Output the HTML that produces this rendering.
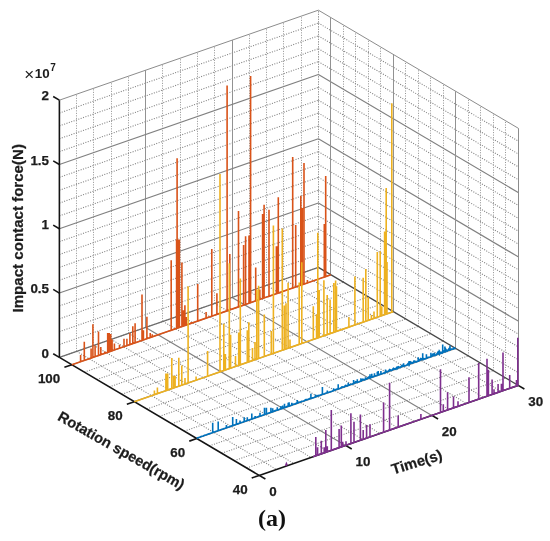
<!DOCTYPE html>
<html><head><meta charset="utf-8"><title>Impact contact force</title>
<style>
html,body{margin:0;padding:0;background:#fff}
svg{display:block}
text{font-family:"Liberation Sans",Arial,sans-serif;fill:#1c1c1c}
.tk{font-size:13.4px;font-weight:bold;stroke:#1c1c1c;stroke-width:0.25px}
.lb{font-size:14.8px;font-weight:bold;stroke:#1c1c1c;stroke-width:0.25px}
.ex{font-size:13.4px;font-weight:bold}
.cap{font-family:"Liberation Serif","Times New Roman",serif;font-size:24px;font-weight:bold;fill:#111}
.mn{stroke:#969696;stroke-width:1;stroke-dasharray:1.05 1.45;fill:none}
.mj{stroke:#929292;stroke-width:1;fill:none}
.dg{stroke:#808080;stroke-width:1.05}
.dg2{stroke:#808080;stroke-width:1.15}
.bx{stroke:#8c8c8c;stroke-width:1;fill:none}
.bk{stroke:#484848;stroke-width:1.25;fill:none}
.bk2{stroke:#6c6c6c;stroke-width:1.1;fill:none}
.ax{stroke:#141414;stroke-width:1.6;fill:none;stroke-linecap:butt}
.d{fill:none;stroke-width:1.6;stroke-linejoin:miter}
</style></head><body>
<svg width="550" height="541" viewBox="0 0 550 541">
<rect width="550" height="541" fill="#fff"/>
<line class="mn" x1="76.5" y1="351.38" x2="76.5" y2="94.18"/>
<line class="mn dg" x1="76.66" y1="351.38" x2="276.47" y2="469.4"/>
<line class="mn" x1="93.5" y1="345.38" x2="93.5" y2="88.18"/>
<line class="mn dg" x1="93.92" y1="345.38" x2="293.73" y2="463.4"/>
<line class="mn" x1="111.5" y1="339.38" x2="111.5" y2="82.18"/>
<line class="mn dg" x1="111.19" y1="339.38" x2="311" y2="457.4"/>
<line class="mn" x1="128.5" y1="333.38" x2="128.5" y2="76.18"/>
<line class="mn dg" x1="128.46" y1="333.38" x2="328.26" y2="451.4"/>
<line class="mn" x1="162.5" y1="321.38" x2="162.5" y2="64.18"/>
<line class="mn dg" x1="162.99" y1="321.38" x2="362.8" y2="439.4"/>
<line class="mn" x1="180.5" y1="315.38" x2="180.5" y2="58.18"/>
<line class="mn dg" x1="180.25" y1="315.38" x2="380.06" y2="433.4"/>
<line class="mn" x1="197.5" y1="309.38" x2="197.5" y2="52.18"/>
<line class="mn dg" x1="197.52" y1="309.38" x2="397.33" y2="427.4"/>
<line class="mn" x1="214.5" y1="303.38" x2="214.5" y2="46.18"/>
<line class="mn dg" x1="214.79" y1="303.38" x2="414.59" y2="421.4"/>
<line class="mn" x1="249.5" y1="291.38" x2="249.5" y2="34.18"/>
<line class="mn dg" x1="249.32" y1="291.38" x2="449.13" y2="409.4"/>
<line class="mn" x1="266.5" y1="285.38" x2="266.5" y2="28.18"/>
<line class="mn dg" x1="266.58" y1="285.38" x2="466.39" y2="403.4"/>
<line class="mn" x1="283.5" y1="279.38" x2="283.5" y2="22.18"/>
<line class="mn dg" x1="283.85" y1="279.38" x2="483.66" y2="397.4"/>
<line class="mn" x1="301.5" y1="273.38" x2="301.5" y2="16.18"/>
<line class="mn dg" x1="301.12" y1="273.38" x2="500.92" y2="391.4"/>
<line class="mn dg" x1="59.39" y1="344.52" x2="318.38" y2="254.52"/>
<line class="mn dg" x1="318.38" y1="254.52" x2="518.19" y2="372.54"/>
<line class="mn dg" x1="59.39" y1="331.66" x2="318.38" y2="241.66"/>
<line class="mn dg" x1="318.38" y1="241.66" x2="518.19" y2="359.68"/>
<line class="mn dg" x1="59.39" y1="318.8" x2="318.38" y2="228.8"/>
<line class="mn dg" x1="318.38" y1="228.8" x2="518.19" y2="346.82"/>
<line class="mn dg" x1="59.39" y1="305.94" x2="318.38" y2="215.94"/>
<line class="mn dg" x1="318.38" y1="215.94" x2="518.19" y2="333.96"/>
<line class="mn dg" x1="59.39" y1="280.22" x2="318.38" y2="190.22"/>
<line class="mn dg" x1="318.38" y1="190.22" x2="518.19" y2="308.24"/>
<line class="mn dg" x1="59.39" y1="267.36" x2="318.38" y2="177.36"/>
<line class="mn dg" x1="318.38" y1="177.36" x2="518.19" y2="295.38"/>
<line class="mn dg" x1="59.39" y1="254.5" x2="318.38" y2="164.5"/>
<line class="mn dg" x1="318.38" y1="164.5" x2="518.19" y2="282.52"/>
<line class="mn dg" x1="59.39" y1="241.64" x2="318.38" y2="151.64"/>
<line class="mn dg" x1="318.38" y1="151.64" x2="518.19" y2="269.66"/>
<line class="mn dg" x1="59.39" y1="215.92" x2="318.38" y2="125.92"/>
<line class="mn dg" x1="318.38" y1="125.92" x2="518.19" y2="243.94"/>
<line class="mn dg" x1="59.39" y1="203.06" x2="318.38" y2="113.06"/>
<line class="mn dg" x1="318.38" y1="113.06" x2="518.19" y2="231.08"/>
<line class="mn dg" x1="59.39" y1="190.2" x2="318.38" y2="100.2"/>
<line class="mn dg" x1="318.38" y1="100.2" x2="518.19" y2="218.22"/>
<line class="mn dg" x1="59.39" y1="177.34" x2="318.38" y2="87.34"/>
<line class="mn dg" x1="318.38" y1="87.34" x2="518.19" y2="205.36"/>
<line class="mn dg" x1="59.39" y1="151.62" x2="318.38" y2="61.62"/>
<line class="mn dg" x1="318.38" y1="61.62" x2="518.19" y2="179.64"/>
<line class="mn dg" x1="59.39" y1="138.76" x2="318.38" y2="48.76"/>
<line class="mn dg" x1="318.38" y1="48.76" x2="518.19" y2="166.78"/>
<line class="mn dg" x1="59.39" y1="125.9" x2="318.38" y2="35.9"/>
<line class="mn dg" x1="318.38" y1="35.9" x2="518.19" y2="153.92"/>
<line class="mn dg" x1="59.39" y1="113.04" x2="318.38" y2="23.04"/>
<line class="mn dg" x1="318.38" y1="23.04" x2="518.19" y2="141.06"/>
<line class="mn" x1="505.5" y1="378.02" x2="505.5" y2="120.82"/>
<line class="mn dg" x1="246.71" y1="468.02" x2="505.7" y2="378.02"/>
<line class="mn" x1="493.5" y1="370.65" x2="493.5" y2="113.45"/>
<line class="mn dg" x1="234.22" y1="460.65" x2="493.21" y2="370.65"/>
<line class="mn" x1="480.5" y1="363.27" x2="480.5" y2="106.07"/>
<line class="mn dg" x1="221.74" y1="453.27" x2="480.73" y2="363.27"/>
<line class="mn" x1="468.5" y1="355.9" x2="468.5" y2="98.7"/>
<line class="mn dg" x1="209.25" y1="445.9" x2="468.24" y2="355.9"/>
<line class="mn" x1="443.5" y1="341.14" x2="443.5" y2="83.94"/>
<line class="mn dg" x1="184.27" y1="431.14" x2="443.26" y2="341.14"/>
<line class="mn" x1="430.5" y1="333.77" x2="430.5" y2="76.57"/>
<line class="mn dg" x1="171.78" y1="423.77" x2="430.77" y2="333.77"/>
<line class="mn" x1="418.5" y1="326.39" x2="418.5" y2="69.19"/>
<line class="mn dg" x1="159.3" y1="416.39" x2="418.29" y2="326.39"/>
<line class="mn" x1="405.5" y1="319.02" x2="405.5" y2="61.82"/>
<line class="mn dg" x1="146.81" y1="409.02" x2="405.8" y2="319.02"/>
<line class="mn" x1="380.5" y1="304.26" x2="380.5" y2="47.06"/>
<line class="mn dg" x1="121.83" y1="394.26" x2="380.82" y2="304.26"/>
<line class="mn" x1="368.5" y1="296.89" x2="368.5" y2="39.69"/>
<line class="mn dg" x1="109.34" y1="386.89" x2="368.33" y2="296.89"/>
<line class="mn" x1="355.5" y1="289.51" x2="355.5" y2="32.31"/>
<line class="mn dg" x1="96.86" y1="379.51" x2="355.85" y2="289.51"/>
<line class="mn" x1="343.5" y1="282.14" x2="343.5" y2="24.94"/>
<line class="mn dg" x1="84.37" y1="372.14" x2="343.36" y2="282.14"/>
<line class="mn" x1="318.5" y1="267.38" x2="318.5" y2="10.18"/>
<line class="mn dg" x1="59.39" y1="357.38" x2="318.38" y2="267.38"/>
<line class="mn" x1="318.5" y1="267.38" x2="318.5" y2="10.18"/>
<line class="mj" x1="145.5" y1="327.38" x2="145.5" y2="70.18"/>
<line class="mj dg2" x1="145.72" y1="327.38" x2="345.53" y2="445.4"/>
<line class="mj" x1="232.5" y1="297.38" x2="232.5" y2="40.18"/>
<line class="mj dg2" x1="232.05" y1="297.38" x2="431.86" y2="415.4"/>
<line class="mj dg2" x1="59.39" y1="293.08" x2="318.38" y2="203.08"/>
<line class="mj dg2" x1="318.38" y1="203.08" x2="518.19" y2="321.1"/>
<line class="mj dg2" x1="59.39" y1="228.78" x2="318.38" y2="138.78"/>
<line class="mj dg2" x1="318.38" y1="138.78" x2="518.19" y2="256.8"/>
<line class="mj dg2" x1="59.39" y1="164.48" x2="318.38" y2="74.48"/>
<line class="mj dg2" x1="318.38" y1="74.48" x2="518.19" y2="192.5"/>
<line class="mj" x1="455.5" y1="348.52" x2="455.5" y2="91.32"/>
<line class="mj dg2" x1="196.76" y1="438.52" x2="455.75" y2="348.52"/>
<line class="mj" x1="393.5" y1="311.64" x2="393.5" y2="54.44"/>
<line class="mj dg2" x1="134.32" y1="401.64" x2="393.31" y2="311.64"/>
<line class="mj" x1="330.5" y1="274.76" x2="330.5" y2="17.56"/>
<line class="mj dg2" x1="71.88" y1="364.76" x2="330.87" y2="274.76"/>
<line class="bx" x1="59.39" y1="100.18" x2="318.38" y2="10.18"/>
<line class="bx" x1="318.38" y1="10.18" x2="518.19" y2="128.2"/>
<line class="bx" x1="518.5" y1="128.2" x2="518.5" y2="385.4"/>
<line class="bk2" x1="59.39" y1="357.38" x2="318.38" y2="267.38"/>
<line class="bk" x1="318.38" y1="267.38" x2="518.19" y2="385.4"/>
<line class="ax" x1="59.39" y1="357.38" x2="59.39" y2="100.18"/>
<line class="ax" x1="59.39" y1="357.38" x2="259.2" y2="475.4"/>
<line class="ax" x1="259.2" y1="475.4" x2="518.19" y2="385.4"/>
<line class="ax" x1="59.39" y1="357.38" x2="53.19" y2="353.72"/>
<line class="ax" x1="59.39" y1="293.08" x2="53.19" y2="289.42"/>
<line class="ax" x1="59.39" y1="228.78" x2="53.19" y2="225.12"/>
<line class="ax" x1="59.39" y1="164.48" x2="53.19" y2="160.82"/>
<line class="ax" x1="59.39" y1="100.18" x2="53.19" y2="96.52"/>
<line class="ax" x1="259.2" y1="475.4" x2="251.72" y2="478"/>
<line class="ax" x1="196.76" y1="438.52" x2="189.28" y2="441.12"/>
<line class="ax" x1="134.32" y1="401.64" x2="126.84" y2="404.24"/>
<line class="ax" x1="71.88" y1="364.76" x2="64.4" y2="367.36"/>
<line class="ax" x1="259.2" y1="475.4" x2="265.4" y2="479.06"/>
<line class="ax" x1="345.53" y1="445.4" x2="351.73" y2="449.06"/>
<line class="ax" x1="431.86" y1="415.4" x2="438.06" y2="419.06"/>
<line class="ax" x1="518.19" y1="385.4" x2="524.39" y2="389.06"/>
<polyline class="d" stroke="#d95319" points="71.88,364.76 80.6,361.73 80.6,355.1 80.6,361.73 84.3,360.44 84.3,341.8 84.3,360.44 91.1,358.08 91.1,348.4 91.1,358.08 92.9,357.46 92.9,324.3 92.9,357.46 95.1,356.69 95.1,345.5 95.1,356.69 98.5,355.51 98.5,331.4 98.5,355.51 100.8,354.71 100.8,346.9 100.8,354.71 104.7,353.35 104.7,351.4 104.7,353.35 107.7,352.31 107.7,332.9 107.7,352.31 109.2,351.79 109.2,332.9 109.2,351.79 110.7,351.27 110.7,334 110.7,351.27 112.1,350.78 112.1,339.5 112.1,350.78 114.4,349.98 114.4,343.5 114.4,349.98 119.5,348.21 119.5,344.7 119.5,348.21 124,346.65 124,338.8 124,346.65 126.9,345.64 126.9,338.8 126.9,345.64 129.9,344.6 129.9,332.9 129.9,344.6 132.8,343.59 132.8,326.2 132.8,343.59 135.1,342.79 135.1,323.3 135.1,342.79 142,340.39 142,294.6 142,340.39 143.4,339.91 143.4,330.3 143.4,339.91 146.9,338.69 146.9,316.8 146.9,338.69 150.2,337.54 150.2,333 150.2,337.54 152.2,336.85 152.2,334.3 152.2,336.85 171.2,330.25 171.2,260.2 171.2,330.25 176.6,328.37 176.6,239.5 176.6,328.37 177.1,328.2 177.1,158.3 177.1,328.2 178.3,327.78 178.3,239.5 178.3,327.78 179.4,327.4 179.4,239.5 179.4,327.4 181.9,326.53 181.9,262.6 181.9,326.53 183.4,326.01 183.4,310.2 183.4,326.01 184.9,325.49 184.9,305.2 184.9,325.49 186.2,325.03 186.2,317 186.2,325.03 191.2,323.3 191.2,322 191.2,323.3 197.7,321.04 197.7,284 197.7,321.04 206.1,318.12 206.1,312 206.1,318.12 211.8,316.14 211.8,249.1 211.8,316.14 216.9,314.37 216.9,293.3 216.9,314.37 227.1,310.82 227.1,85.4 227.1,310.82 229.8,309.88 229.8,253.9 229.8,309.88 238.5,306.86 238.5,211 238.5,306.86 243.6,305.09 243.6,245.1 243.6,305.09 245.6,304.39 245.6,236.3 245.6,304.39 249,303.21 249,235.5 249,303.21 250.6,302.65 250.6,76 250.6,302.65 255.7,300.88 255.7,267.6 255.7,300.88 259.8,299.46 259.8,289.5 259.8,299.46 262.6,298.48 262.6,213.9 262.6,298.48 264.1,297.96 264.1,204.8 264.1,297.96 269,296.26 269,209.8 269,296.26 276.4,293.69 276.4,246.3 276.4,293.69 277.3,293.38 277.3,246.3 277.3,293.38 278.3,293.03 278.3,197.2 278.3,293.03 292.7,288.02 292.7,157 292.7,288.02 295.7,286.98 295.7,225 295.7,286.98 300.8,285.21 300.8,195.7 300.8,285.21 302.3,284.69 302.3,208 302.3,284.69 304,284.1 304,163 304,284.1 307.4,282.92 307.4,280 307.4,282.92 324.3,277.04 324.3,223.9 324.3,277.04 325.7,276.56 325.7,176 325.7,276.56 330.87,274.76"/>
<polyline class="d" stroke="#edb120" points="134.32,401.64 154.4,394.66 154.4,390.6 154.4,394.66 157.4,393.62 157.4,387.4 157.4,393.62 165.9,390.67 165.9,373.6 165.9,390.67 167,390.28 167,373.6 167,390.28 167.7,390.04 167.7,373.6 167.7,390.04 171.8,388.62 171.8,358.1 171.8,388.62 173.6,387.99 173.6,375.8 173.6,387.99 174.4,387.71 174.4,375.8 174.4,387.71 175.1,387.47 175.1,375.8 175.1,387.47 178.8,386.18 178.8,357.8 178.8,386.18 181.8,385.14 181.8,365.5 181.8,385.14 185,384.03 185,378 185,384.03 188.1,382.95 188.1,286.2 188.1,382.95 196.1,380.17 196.1,376.6 196.1,380.17 207.6,376.17 207.6,351 207.6,376.17 220,371.87 220,173.9 220,371.87 223.8,370.55 223.8,323.7 223.8,370.55 225.4,369.99 225.4,354 225.4,369.99 229.3,368.63 229.3,263.2 229.3,368.63 230.6,368.18 230.6,334.8 230.6,368.18 235.5,366.48 235.5,355.9 235.5,366.48 238.7,365.37 238.7,332.5 238.7,365.37 240.3,364.81 240.3,278.4 240.3,364.81 247.3,362.38 247.3,330.3 247.3,362.38 248.8,361.86 248.8,322.2 248.8,361.86 252.5,360.57 252.5,348.1 252.5,360.57 255,359.7 255,342.1 255,359.7 256.8,359.08 256.8,289.5 256.8,359.08 258.6,358.45 258.6,285.8 258.6,358.45 264.3,356.47 264.3,314.5 264.3,356.47 271.3,354.04 271.3,331 271.3,354.04 273.4,353.31 273.4,225.6 273.4,353.31 282.3,350.22 282.3,228.6 282.3,350.22 284.3,349.52 284.3,305.5 284.3,349.52 286,348.93 286,303.3 286,348.93 288.1,348.2 288.1,282.7 288.1,348.2 290,347.54 290,339.5 290,347.54 299.2,344.34 299.2,282.5 299.2,344.34 301.8,343.44 301.8,262.2 301.8,343.44 313.3,339.44 313.3,306.2 313.3,339.44 316.6,338.3 316.6,314.4 316.6,338.3 317.8,337.88 317.8,232.7 317.8,337.88 319.2,337.39 319.2,290 319.2,337.39 323.9,335.76 323.9,280.3 323.9,335.76 327.2,334.61 327.2,295.1 327.2,334.61 330.1,333.61 330.1,299.6 330.1,333.61 333.8,332.32 333.8,283 333.8,332.32 335.6,331.69 335.6,280.4 335.6,331.69 336.5,331.38 336.5,286.3 336.5,331.38 348.9,327.07 348.9,317.3 348.9,327.07 354.9,324.99 354.9,276.5 354.9,324.99 363.2,322.1 363.2,277.8 363.2,322.1 365.8,321.2 365.8,269.1 365.8,321.2 368.2,320.37 368.2,297.3 368.2,320.37 371.4,319.25 371.4,315 371.4,319.25 374,318.35 374,311.4 374,318.35 377.3,317.2 377.3,252.1 377.3,317.2 380.2,316.2 380.2,251.3 380.2,316.2 381.8,315.64 381.8,306.2 381.8,315.64 384.6,314.67 384.6,231.5 384.6,314.67 386.2,314.11 386.2,188.1 386.2,314.11 387,313.83 387,262 387,313.83 391.8,312.16 391.8,103.2 391.8,312.16 393.31,311.64"/>
<polyline class="d" stroke="#0072bd" style="fill:#0072bd" points="196.76,438.52 197.76,437.72 199.48,437.17 201.03,436.62 203.09,435.92 204.56,435.28 206.49,434.74 208.26,433.97 209.72,433.62 211.63,432.88 212.7,432.38 212.7,422.71 212.7,432.38 213.06,432.38 214.9,431.82 216.37,431.29 217.86,430.79 218.2,430.47 218.2,421.5 218.2,430.47 219.68,430.15 221.91,429.36 223.43,428.85 225.06,428.22 226.4,427.62 226.4,425.05 226.4,427.62 227.08,427.53 229.43,426.77 231.41,425.91 232.7,425.43 232.7,416.96 232.7,425.43 233.2,425.42 235.58,424.63 236.4,424.14 236.4,419.08 236.4,424.14 237.03,424.13 239.29,423.34 240,422.89 240,420.42 240,422.89 240.98,422.53 242.52,422.22 244.04,421.56 244.2,421.43 244.2,417.26 244.2,421.43 245.75,421.06 247.3,420.36 247.3,417.29 247.3,420.36 247.96,420.18 249.54,419.78 251.52,419.08 251.8,418.79 251.8,413.62 251.8,418.79 253.56,418.23 255.1,417.65 255.1,415.98 255.1,417.65 255.34,417.47 257.28,417.09 258.75,416.31 260,415.94 260,412.77 260,415.94 260.21,415.85 261.81,415.51 263.89,414.7 264.5,414.38 264.5,407.71 264.5,414.38 265.72,414.03 266.4,413.72 266.4,407.65 266.4,413.72 267.43,413.5 269.42,412.87 270.9,412.16 270.9,407.69 270.9,412.16 271.27,412.23 272.7,411.53 272.7,408.16 272.7,411.53 272.97,411.64 275.17,410.55 277.27,410.14 277.3,409.93 277.3,407.26 277.3,409.93 278.91,409.57 280.88,408.64 280.9,408.68 280.9,406.01 280.9,408.68 282.7,408.06 282.7,405.49 282.7,408.06 282.81,408.22 284.5,407.43 284.5,403.66 284.5,407.43 285.08,407.43 287.21,406.29 288.2,406.14 288.2,402.77 288.2,406.14 288.9,405.93 289.1,405.83 289.1,402.16 289.1,405.83 291.28,405.15 291.8,404.89 291.8,402.72 291.8,404.89 292.8,404.3 294.62,404.11 296.78,402.79 297.3,402.98 297.3,400.01 297.3,402.98 298.33,402.32 300.22,402.17 301.66,401.16 303.72,400.95 305.89,399.65 307.86,399.51 310.14,398.2 310.9,398.26 310.9,393.69 310.9,398.26 311.85,397.96 313.95,397.4 315.5,396.66 315.5,394.59 315.5,396.66 315.94,396.7 317.92,395.61 319.78,395.37 322.02,394.3 322.4,394.26 322.4,386.89 322.4,394.26 324.36,393.75 326.23,393.13 327.3,392.56 327.3,390.39 327.3,392.56 328.3,392.41 329.76,391.88 331.86,391.17 333.6,390.37 333.6,388.2 333.6,390.37 333.91,390.46 336.3,389.35 338.2,388.77 338.2,384.2 338.2,388.77 338.52,388.59 340.21,388.27 341.99,386.92 344.06,386.93 345.48,385.38 347.35,385.79 348.2,385.29 348.2,382.72 348.2,385.29 348.91,385.25 350.43,384.19 351.89,384.21 353.6,383.42 353.6,380.05 353.6,383.42 354.06,383.46 355.59,381.76 357.24,382.35 357.3,382.13 357.3,379.16 357.3,382.13 359.03,381.73 360.9,380.88 360.9,378.21 360.9,380.88 361.3,380.94 362.78,379.1 364.63,379.79 365.5,379.28 365.5,377.31 365.5,379.28 366.58,379.11 368.86,376.95 370,377.72 370,374.25 370,377.72 371.08,377.01 371.8,377.09 371.8,373.72 371.8,377.09 373.34,376.43 374.5,376.15 374.5,373.29 374.5,376.15 375.02,375.83 376.84,375.54 377.3,375.18 377.3,371.81 377.3,375.18 378.2,374.87 378.2,371 378.2,374.87 378.6,374.62 380.88,374.14 380.9,373.93 380.9,370.96 380.9,373.93 383.24,373.32 384.79,372.44 385.5,372.33 385.5,369.46 385.5,372.33 386.37,371.17 388,371.66 389.63,369.51 391.52,370.44 393.51,368.22 395.17,369.17 396.57,367.79 397.3,368.23 397.3,366.36 397.3,368.23 398.39,366.81 400.16,367.44 402.13,365.18 403.6,366.04 403.6,363.27 403.6,366.04 404.48,365.77 406.57,365.21 408.49,363.17 409.1,364.13 409.1,360.96 409.1,364.13 410.5,361.91 412.58,363.12 414.03,360.9 416.33,361.82 418.2,360.97 418.2,357.3 418.2,360.97 418.51,361.06 420.79,358.53 422.7,359.4 422.7,353.14 422.7,359.4 422.99,358.38 424.78,358.88 426.4,358.12 426.4,354.25 426.4,358.12 426.58,358.26 428.08,357.3 430.11,357.03 430.9,356.56 430.9,352.79 430.9,356.56 431.58,356.52 433.04,353.99 434.5,355.3 434.5,352.73 434.5,355.3 434.65,354.59 436.22,354.91 437.96,352.17 439.1,353.71 439.1,350.54 439.1,353.71 439.41,351.18 440.81,353.31 442.36,351.68 442.7,352.45 442.7,344.59 442.7,352.45 443.86,351.13 444.9,351.69 444.9,346.42 444.9,351.69 445.62,348.96 447.05,351.14 449.32,348.25 450,349.92 450,345.45 450,349.92 451.34,349.15 452.89,349.11 453.6,348.67 453.6,347 453.6,348.67 454.54,348.54 455.75,348.52"/>
<polyline class="d" stroke="#7e2f8e" points="313,456.7 315.8,455.73 315.8,436.96 315.8,455.73 317.6,455.11 317.6,447.24 317.6,455.11 321.3,453.82 321.3,440.85 321.3,453.82 324.2,452.81 324.2,447.24 324.2,452.81 325.8,452.26 325.8,429.99 325.8,452.26 327.3,451.73 327.3,446.37 327.3,451.73 331.3,450.34 331.3,409.98 331.3,450.34 339.1,447.63 339.1,429.06 339.1,447.63 341.3,446.87 341.3,425.4 341.3,446.87 342.7,446.38 342.7,441.81 342.7,446.38 346,445.24 346,441.27 346,445.24 350.9,443.53 350.9,413.26 350.9,443.53 354,442.46 354,421.79 354,442.46 360.4,440.23 360.4,414.56 360.4,440.23 363.2,439.26 363.2,429.99 363.2,439.26 366.6,438.08 366.6,425.01 366.6,438.08 370,436.9 370,424.13 370,436.9 383.6,432.17 383.6,402.4 383.6,432.17 389.6,430.09 389.6,382.72 389.6,430.09 398.2,427.1 398.2,415.43 398.2,427.1 420.9,419.21 420.9,414.04 420.9,419.21 440.5,412.4 440.5,369.13 440.5,412.4 443.3,411.42 443.3,404.16 443.3,411.42 447.6,409.93 447.6,392.16 447.6,409.93 453.5,407.88 453.5,396.41 453.5,407.88 458,406.32 458,401.25 458,406.32 469,402.49 469,377.22 469,402.49 478.7,399.12 478.7,362.95 478.7,399.12 487,396.24 487,358.77 487,396.24 488.4,395.75 488.4,369.78 488.4,395.75 492.1,394.47 492.1,379.6 492.1,394.47 494,393.81 494,389.24 494,393.81 498.1,392.38 498.1,384.01 498.1,392.38 501.4,391.23 501.4,383.67 501.4,391.23 503,390.68 503,352.61 503,390.68 509.7,388.35 509.7,374.98 509.7,388.35 516.5,385.99 516.5,380.02 516.5,385.99 517.8,385.54 517.8,337.87 517.8,385.54 518.19,385.4"/>
<polyline class="d" stroke="#7e2f8e" points="285.6,466 286.4,463.6 287.2,465.4"/>
<text class="tk" x="49" y="357.68" text-anchor="end">0</text>
<text class="tk" x="49" y="293.38" text-anchor="end">0.5</text>
<text class="tk" x="49" y="229.08" text-anchor="end">1</text>
<text class="tk" x="49" y="164.78" text-anchor="end">1.5</text>
<text class="tk" x="49" y="100.48" text-anchor="end">2</text>
<text class="tk" x="247.6" y="493.8" text-anchor="end">40</text>
<text class="tk" x="185.16" y="456.92" text-anchor="end">60</text>
<text class="tk" x="122.72" y="420.04" text-anchor="end">80</text>
<text class="tk" x="60.28" y="383.16" text-anchor="end">100</text>
<text class="tk" x="269.2" y="495.6" text-anchor="start">0</text>
<text class="tk" x="355.53" y="465.6" text-anchor="start">10</text>
<text class="tk" x="441.86" y="435.6" text-anchor="start">20</text>
<text class="tk" x="528.19" y="405.6" text-anchor="start">30</text>
<text class="ex" x="24.3" y="78.1"><tspan font-size="17" font-weight="normal" dy="1.5">×</tspan><tspan dx="0.5" dy="-1.5">10</tspan><tspan dy="-7" dx="0.6" font-size="10">7</tspan></text>
<text class="lb" transform="translate(22.5,228.3) rotate(-90)" text-anchor="middle" textLength="168.4" lengthAdjust="spacingAndGlyphs">Impact contact force(N)</text>
<text class="lb" style="font-size:14.6px" transform="translate(118.9,454.7) rotate(29.6)" text-anchor="middle">Rotation speed(rpm)</text>
<text class="lb" transform="translate(418.3,466.8) rotate(-17)" text-anchor="middle">Time(s)</text>
<text class="cap" x="272" y="525.8" text-anchor="middle">(a)</text>
</svg>
</body></html>
